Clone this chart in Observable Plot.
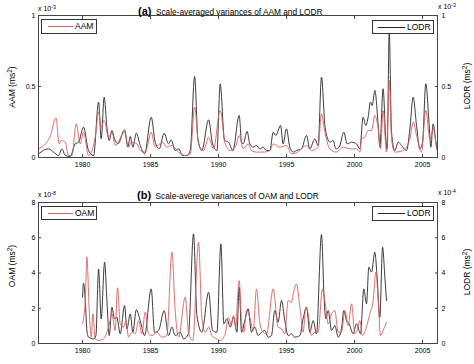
<!DOCTYPE html>
<html><head><meta charset="utf-8">
<script src="https://cdn.jsdelivr.net/npm/d3@7"></script>
<script src="https://cdn.jsdelivr.net/npm/@observablehq/plot@0.6"></script>
<style>
body{margin:0;background:#fff;font-family:"Liberation Sans",Arial,sans-serif;}
#wrap{position:relative;width:474px;height:364px;overflow:hidden;background:#fff;}
#wrap svg{display:block;}
.t{position:absolute;white-space:nowrap;color:#000;line-height:1;}
.t sup{font-size:0.75em;vertical-align:0.45em;line-height:0;}
.rot{transform:translate(-50%,-50%) rotate(-90deg);font-size:8.5px;}
.leg{position:absolute;border:1px solid #333;background:#fff;box-sizing:border-box;font-size:8.5px;}
.leg .ln{position:absolute;height:1px;}
.leg .lt{position:absolute;line-height:1;}
</style></head>
<body><div id="wrap"></div>
<script>
// ---------- data ----------
const xTicks = [1980, 1985, 1990, 1995, 2000, 2005];
const yTicksA = [0, 0.5, 1];
const yTicksB = [0, 2, 4, 6, 8];

// panel (a): values in units of 1e-3 ms^2
const aamYear = [1976.77,1977.62,1978.04,1978.28,1978.43,1978.73,1978.97,1979.22,1979.53,1979.83,1980.07,1980.44,1980.93,1981.18,1981.37,1981.59,1981.91,1982.16,1982.40,1983.09,1983.38,1983.58,1984.00,1984.24,1984.61,1985.05,1985.34,1985.88,1986.20,1986.57,1987.06,1987.55,1987.92,1988.24,1988.53,1988.90,1989.27,1989.63,1990.12,1990.49,1990.86,1991.23,1991.52,1991.81,1992.18,1992.42,1992.79,1993.28,1993.77,1994.02,1994.51,1994.99,1995.36,1995.73,1996.22,1996.47,1996.83,1997.32,1997.57,1997.82,1998.18,1998.67,1999.16,1999.65,2000.14,2000.39,2000.51,2000.76,2001.00,2001.25,2001.49,2001.74,2001.91,2002.10,2002.35,2002.55,2002.72,2002.96,2003.57,2004.07,2004.31,2004.56,2004.92,2005.24,2005.54,2005.78,2006.03];
const aamVal = [0.061,0.148,0.279,0.096,0.120,0.108,0.014,0.014,0.237,0.096,0.178,0.014,0.143,0.319,0.214,0.260,0.143,0.178,0.085,0.178,0.073,0.108,0.096,0.049,0.038,0.178,0.073,0.108,0.073,0.085,0.038,0.014,0.026,0.354,0.096,0.049,0.143,0.061,0.331,0.096,0.049,0.073,0.155,0.061,0.096,0.049,0.038,0.038,0.049,0.096,0.073,0.085,0.026,0.033,0.073,0.085,0.049,0.073,0.308,0.178,0.061,0.038,0.073,0.061,0.061,0.038,0.131,0.143,0.190,0.190,0.296,0.202,0.061,0.331,0.038,0.542,0.131,0.038,0.049,0.131,0.249,0.155,0.038,0.331,0.131,0.202,0.061];

const lodrAYear = [1976.77,1977.50,1977.87,1978.24,1978.48,1978.73,1979.09,1979.46,1979.71,1980.07,1980.44,1980.81,1981.18,1981.37,1981.59,1981.79,1981.96,1982.16,1982.35,1982.60,1983.09,1983.33,1983.51,1983.70,1983.95,1984.24,1984.56,1985.05,1985.34,1985.64,1986.00,1986.32,1986.52,1986.81,1987.06,1987.35,1987.67,1987.92,1988.24,1988.48,1988.77,1989.27,1989.56,1989.88,1990.12,1990.44,1990.73,1991.05,1991.52,1991.69,1991.81,1992.10,1992.30,1992.55,1992.79,1993.04,1993.28,1993.53,1993.77,1994.02,1994.21,1994.56,1994.75,1994.99,1995.24,1995.49,1995.73,1996.10,1996.47,1996.71,1997.08,1997.32,1997.57,1997.82,1997.99,1998.18,1998.43,1998.62,1998.87,1999.21,1999.46,1999.78,2000.14,2000.39,2000.63,2000.83,2001.00,2001.17,2001.30,2001.49,2001.74,2001.86,2002.10,2002.30,2002.40,2002.55,2002.72,2002.96,2003.21,2003.45,2003.82,2004.07,2004.31,2004.56,2004.80,2005.00,2005.24,2005.49,2005.61,2005.78,2005.98,2006.15];
const lodrAVal = [0.026,0.061,0.038,0.014,0.061,0.014,0.007,0.096,0.108,0.214,0.049,0.014,0.390,0.131,0.425,0.214,0.120,0.190,0.131,0.096,0.195,0.073,0.148,0.073,0.171,0.085,0.026,0.284,0.108,0.061,0.171,0.096,0.124,0.049,0.061,0.014,0.014,0.049,0.570,0.131,0.049,0.265,0.096,0.049,0.519,0.120,0.108,0.049,0.296,0.108,0.096,0.183,0.096,0.073,0.085,0.061,0.073,0.049,0.049,0.178,0.155,0.225,0.096,0.202,0.073,0.038,0.049,0.061,0.155,0.061,0.131,0.085,0.566,0.225,0.143,0.108,0.120,0.061,0.073,0.178,0.096,0.108,0.096,0.061,0.284,0.225,0.284,0.390,0.366,0.472,0.225,0.073,0.484,0.131,0.061,0.883,0.178,0.049,0.108,0.085,0.049,0.202,0.425,0.225,0.061,0.108,0.519,0.225,0.073,0.237,0.108,0.014];

// panel (b): OAM in units of 1e-8, LODR in units of 1e-4 ms^2
const oamYear = [1980.00,1980.20,1980.32,1980.49,1980.64,1980.76,1980.93,1981.18,1981.54,1981.91,1982.16,1982.40,1982.57,1982.77,1983.02,1983.19,1983.38,1983.63,1983.87,1984.12,1984.36,1984.61,1984.85,1985.10,1985.47,1985.83,1986.20,1986.57,1986.81,1987.06,1987.55,1987.79,1988.11,1988.53,1988.77,1989.02,1989.27,1989.51,1989.88,1990.12,1990.49,1990.73,1990.93,1991.10,1991.27,1991.40,1991.52,1991.69,1991.86,1992.06,1992.30,1992.55,1992.79,1993.04,1993.28,1993.53,1994.02,1994.38,1994.63,1994.87,1995.12,1995.36,1995.49,1995.73,1995.98,1996.22,1996.42,1996.59,1996.83,1997.08,1997.32,1997.64,1997.82,1998.06,1998.31,1998.55,1998.80,1999.04,1999.29,1999.53,1999.78,2000.02,2000.19,2000.39,2000.58,2000.88,2001.12,2001.37,2001.57,2001.74,2001.91,2002.10,2002.35];
const oamVal = [1.12,2.44,4.90,1.87,0.36,1.68,0.26,0.17,0.26,0.93,1.68,0.74,3.16,1.12,0.93,1.30,0.36,0.64,0.55,1.30,0.55,1.78,0.55,0.45,0.64,0.36,0.45,5.18,1.87,0.36,2.63,0.64,0.17,5.75,1.49,0.64,0.93,0.45,0.26,0.17,0.55,1.49,1.02,1.59,0.93,2.63,3.57,1.30,0.64,1.87,1.49,0.74,3.10,1.12,0.64,0.55,3.10,0.93,0.83,0.55,2.44,2.34,2.82,3.38,2.06,0.64,2.06,1.68,0.45,0.64,0.64,3.10,2.44,1.12,1.68,1.87,0.64,0.64,1.87,1.02,2.25,0.55,0.74,1.30,0.45,0.93,1.68,2.44,4.05,2.44,0.45,0.74,1.21];

const lodrBYear = [1980.00,1980.07,1980.20,1980.32,1980.44,1980.81,1980.98,1981.18,1981.37,1981.62,1981.79,1981.96,1982.16,1982.35,1982.52,1982.77,1983.09,1983.26,1983.51,1983.70,1983.95,1984.24,1984.56,1985.05,1985.29,1985.59,1986.00,1986.32,1986.57,1986.81,1987.18,1987.43,1987.79,1988.16,1988.41,1988.77,1989.27,1989.56,1989.88,1990.17,1990.39,1990.61,1990.86,1991.10,1991.35,1991.52,1991.69,1991.93,1992.18,1992.42,1992.67,1992.91,1993.16,1993.40,1993.65,1993.89,1994.14,1994.38,1994.63,1994.87,1995.12,1995.36,1995.61,1995.98,1996.22,1996.47,1996.71,1996.96,1997.20,1997.57,1997.77,1997.89,1998.06,1998.31,1998.55,1998.80,1999.04,1999.21,1999.41,1999.60,1999.90,2000.14,2000.44,2000.68,2000.88,2001.05,2001.25,2001.49,2001.66,2001.86,2002.06,2002.23,2002.35];
const lodrBVal = [2.63,3.42,2.44,0.74,0.36,0.26,0.45,4.23,1.40,4.61,2.44,0.45,2.06,1.40,1.49,0.55,2.15,0.83,1.68,0.64,1.91,1.30,0.45,3.10,0.64,0.74,1.87,0.45,0.93,0.45,0.64,0.26,0.55,6.22,1.59,0.64,2.91,0.74,0.64,5.65,1.12,1.40,0.93,1.49,0.64,3.19,0.64,1.30,1.97,0.64,0.93,0.45,0.64,0.74,0.36,0.45,1.87,1.21,2.44,1.30,0.45,0.55,0.36,0.45,1.40,2.06,0.64,1.30,0.55,6.18,2.44,1.40,1.87,0.74,1.02,0.36,0.83,1.87,1.30,1.12,0.55,1.12,0.55,3.10,2.25,4.33,4.05,5.18,3.76,1.49,5.46,3.76,2.44];

// ---------- drawing ----------
const RED = "#d9605f", BLACK = "#262626", AXIS = "#444";
const rows = (xs, ys) => xs.map((x, i) => ({x, y: ys[i]}));

function panel({mt, mb, ydom, yticks, red, black, yfmt}) {
  return Plot.plot({
    width: 474, height: 182,
    marginLeft: 38, marginRight: 37, marginTop: mt, marginBottom: mb,
    x: {domain: [1976.76, 2006.1], label: null},
    y: {domain: ydom, label: null},
    style: {fontFamily: "'Liberation Sans', Arial, sans-serif", fontSize: "7px", background: "white", color: "#000"},
    marks: [
      Plot.line(black, {x: "x", y: "y", stroke: BLACK, strokeWidth: 0.9, curve: "monotone-x", clip: true}),
      Plot.line(red, {x: "x", y: "y", stroke: RED, strokeWidth: 0.9, curve: "monotone-x", clip: true}),
      Plot.frame({stroke: AXIS, strokeWidth: 1}),
      Plot.axisX(xTicks, {anchor: "bottom", tickSize: -3, tickPadding: 8, stroke: AXIS, tickFormat: d => String(d), label: null}),
      Plot.axisX(xTicks, {anchor: "top", tickSize: -3, stroke: AXIS, tickFormat: () => "", label: null}),
      Plot.axisY(yticks, {anchor: "left", tickSize: -3, tickPadding: 6, stroke: AXIS, tickFormat: yfmt, label: null}),
      Plot.axisY(yticks, {anchor: "right", tickSize: -3, tickPadding: 7, stroke: AXIS, tickFormat: yfmt, label: null})
    ]
  });
}

const wrap = document.getElementById("wrap");
wrap.appendChild(panel({mt: 15, mb: 25, ydom: [0, 1], yticks: yTicksA, red: rows(aamYear, aamVal), black: rows(lodrAYear, lodrAVal), yfmt: d => String(d)}));
wrap.appendChild(panel({mt: 20, mb: 21, ydom: [0, 8], yticks: yTicksB, red: rows(oamYear, oamVal), black: rows(lodrBYear, lodrBVal), yfmt: d => String(d)}));

function addText(html, css, cls = "t") {
  const d = document.createElement("div");
  d.className = cls;
  d.innerHTML = html;
  Object.assign(d.style, css);
  wrap.appendChild(d);
}
function addLegend(label, color, box, lineX, textX) {
  const d = document.createElement("div");
  d.className = "leg";
  Object.assign(d.style, {left: box[0] + "px", top: box[1] + "px", width: box[2] + "px", height: box[3] + "px"});
  const ln = document.createElement("div");
  ln.className = "ln";
  ln.style.left = lineX[0] + "px";
  ln.style.width = (lineX[1] - lineX[0]) + "px";
  ln.style.top = Math.round(box[3] / 2 - 1.5) + "px";
  ln.style.backgroundColor = color;
  const lt = document.createElement("div");
  lt.className = "lt";
  lt.textContent = label;
  Object.assign(lt.style, {left: textX + "px", top: Math.round(box[3] / 2 - 5.5) + "px"});
  d.appendChild(ln); d.appendChild(lt);
  wrap.appendChild(d);
}

// titles
addText('<b style="font-size:11px">(a)</b> <span style="font-size:8.3px">Scale-averaged variances of AAM and LODR</span>', {left: "138px", top: "2px"});
addText('<b style="font-size:11px">(b)</b> <span style="font-size:8.3px">Scale-averege variances of OAM and LODR</span>', {left: "137px", top: "186px"});
// exponents
addText('x 10<sup>-3</sup>', {left: "38px", top: "5px", fontSize: "7px"});
addText('x 10<sup>-3</sup>', {left: "438px", top: "3px", fontSize: "7px"});
addText('x 10<sup>-8</sup>', {left: "38px", top: "191px", fontSize: "7px"});
addText('x 10<sup>-4</sup>', {left: "438px", top: "189px", fontSize: "7px"});
// axis titles
addText('AAM (ms<sup>2</sup>)', {left: "12px", top: "87px"}, "t rot");
addText('LODR (ms<sup>2</sup>)', {left: "467px", top: "86px"}, "t rot");
addText('OAM (ms<sup>2</sup>)', {left: "12px", top: "266px"}, "t rot");
addText('LODR (ms<sup>2</sup>)', {left: "467px", top: "272px"}, "t rot");
// legends
addLegend("AAM", RED, [41, 19, 56, 15], [6, 31], 33);
addLegend("LODR", BLACK, [372, 20, 62, 14], [5, 32], 34);
addLegend("OAM", RED, [41, 206, 56, 14], [6, 31], 33);
addLegend("LODR", BLACK, [372, 206, 62, 15], [5, 32], 34);
</script>
</body></html>
